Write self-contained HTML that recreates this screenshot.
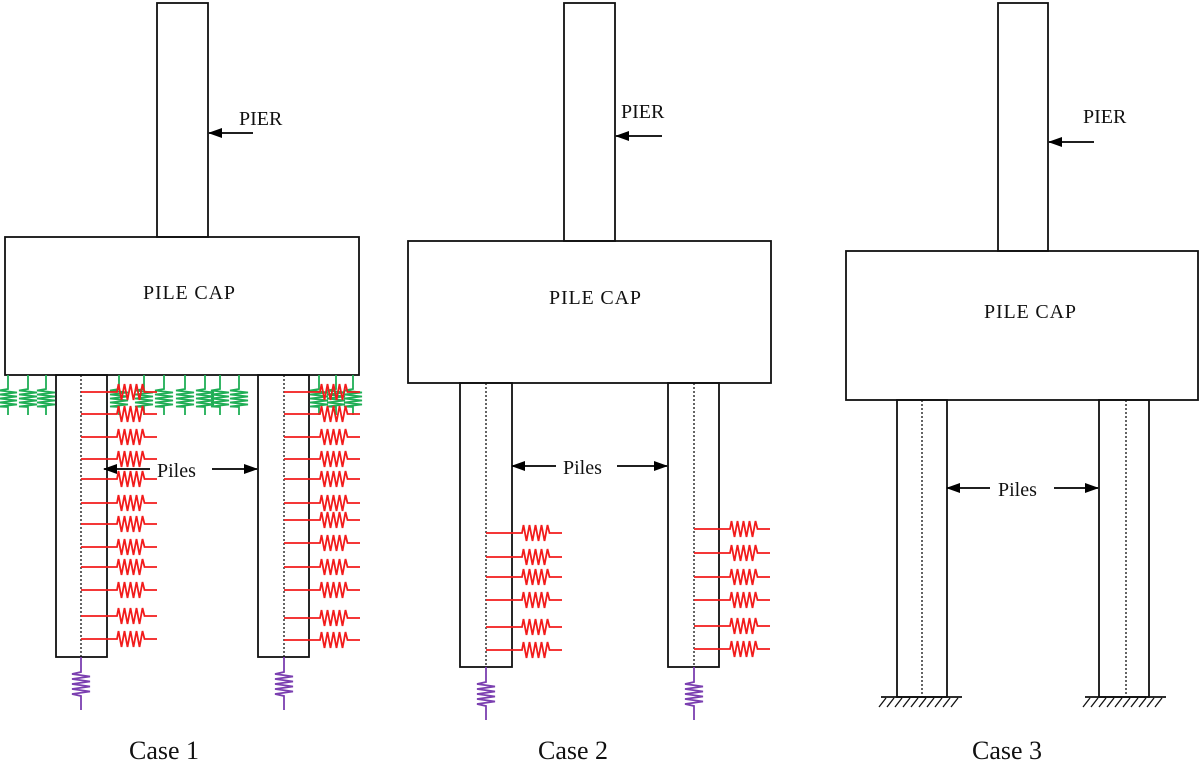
<!DOCTYPE html>
<html><head><meta charset="utf-8"><style>
html,body{margin:0;padding:0;background:#fff;}
svg{display:block;}
text{font-family:"Liberation Serif",serif;fill:#111;}
</style></head><body>
<svg width="1200" height="769" viewBox="0 0 1200 769" xmlns="http://www.w3.org/2000/svg">
<defs>
<path id="rs" d="M0 0H36L37.5 -8L40.5 8L43.5 -8L46.5 8L49.5 -8L52.5 8L55.5 -8L58.5 8L61.5 -8L63.5 0H76" fill="none" stroke="#f21c1c" stroke-width="1.8"/>
<path id="gs" d="M0 0V14L-9 15.5L9 17.5L-9 19.5L9 21.5L-9 23.5L9 25.5L-9 27.5L9 29.5L-9 31.5L0 32V40" fill="none" stroke="#1fae55" stroke-width="1.8"/>
<path id="ps" d="M0 0V15L-9 17L9 19.5L-9 22L9 24.5L-9 27L9 29.5L-9 32L9 34.5L-9 37L0 39V53" fill="none" stroke="#7b3fb0" stroke-width="1.8"/>
<marker id="ah" markerWidth="14" markerHeight="10" refX="13" refY="5" orient="auto" markerUnits="userSpaceOnUse"><path d="M0 0L14 5L0 10Z" fill="#000"/></marker>
</defs>
<g fill="none" stroke="#111" stroke-width="1.8">
<rect x="157" y="3" width="51" height="234"/>
<rect x="5" y="237" width="354" height="138"/>
<rect x="56" y="375" width="51" height="282"/>
<rect x="258" y="375" width="51" height="282"/>
<rect x="564" y="3" width="51" height="238"/>
<rect x="408" y="241" width="363" height="142"/>
<rect x="460" y="383" width="52" height="284"/>
<rect x="668" y="383" width="51" height="284"/>
<rect x="998" y="3" width="50" height="248"/>
<rect x="846" y="251" width="352" height="149"/>
<rect x="897" y="400" width="50" height="297"/>
<rect x="1099" y="400" width="50" height="297"/>
<path d="M881 697H962M1085 697H1166"/>
</g>
<g stroke="#111" stroke-width="1.3" stroke-dasharray="2,2">
<path d="M81 375V657M284 375V657M486 383V667M694 383V667M922 400V697M1126 400V697"/>
</g>
<g stroke="#111" stroke-width="1.3">
<path d="M886 698l-7 9M894 698l-7 9M902 698l-7 9M910 698l-7 9M918 698l-7 9M926 698l-7 9M934 698l-7 9M942 698l-7 9M950 698l-7 9M958 698l-7 9"/>
<path d="M1090 698l-7 9M1098 698l-7 9M1106 698l-7 9M1114 698l-7 9M1122 698l-7 9M1130 698l-7 9M1138 698l-7 9M1146 698l-7 9M1154 698l-7 9M1162 698l-7 9"/>
</g>
<use href="#gs" x="8" y="375"/><use href="#gs" x="28" y="375"/><use href="#gs" x="46" y="375"/>
<use href="#gs" x="119" y="375"/><use href="#gs" x="144" y="375"/><use href="#gs" x="164" y="375"/>
<use href="#gs" x="185" y="375"/><use href="#gs" x="205" y="375"/><use href="#gs" x="220" y="375"/><use href="#gs" x="239" y="375"/>
<use href="#gs" x="319" y="375"/><use href="#gs" x="336" y="375"/><use href="#gs" x="353" y="375"/>
<use href="#rs" x="81" y="392"/><use href="#rs" x="81" y="414"/><use href="#rs" x="81" y="437"/><use href="#rs" x="81" y="459"/>
<use href="#rs" x="81" y="479"/><use href="#rs" x="81" y="503"/><use href="#rs" x="81" y="524"/><use href="#rs" x="81" y="547"/>
<use href="#rs" x="81" y="567"/><use href="#rs" x="81" y="590"/><use href="#rs" x="81" y="616"/><use href="#rs" x="81" y="639"/>
<use href="#rs" x="284" y="392"/><use href="#rs" x="284" y="414"/><use href="#rs" x="284" y="437"/><use href="#rs" x="284" y="459"/>
<use href="#rs" x="284" y="479"/><use href="#rs" x="284" y="503"/><use href="#rs" x="284" y="520"/><use href="#rs" x="284" y="543"/>
<use href="#rs" x="284" y="567"/><use href="#rs" x="284" y="590"/><use href="#rs" x="284" y="618"/><use href="#rs" x="284" y="640"/>
<use href="#rs" x="486" y="533"/><use href="#rs" x="486" y="557"/><use href="#rs" x="486" y="577"/>
<use href="#rs" x="486" y="600"/><use href="#rs" x="486" y="627"/><use href="#rs" x="486" y="650"/>
<use href="#rs" x="694" y="529"/><use href="#rs" x="694" y="553"/><use href="#rs" x="694" y="577"/>
<use href="#rs" x="694" y="600"/><use href="#rs" x="694" y="626"/><use href="#rs" x="694" y="649"/>
<use href="#ps" x="81" y="657"/><use href="#ps" x="284" y="657"/>
<use href="#ps" x="486" y="667"/><use href="#ps" x="694" y="667"/>
<g stroke="#000" stroke-width="1.8" marker-end="url(#ah)">
<line x1="253" y1="133" x2="209" y2="133"/>
<line x1="662" y1="136" x2="616" y2="136"/>
<line x1="1094" y1="142" x2="1049" y2="142"/>
<line x1="150" y1="469" x2="104" y2="469"/>
<line x1="212" y1="469" x2="257" y2="469"/>
<line x1="556" y1="466" x2="512" y2="466"/>
<line x1="617" y1="466" x2="667" y2="466"/>
<line x1="990" y1="488" x2="947" y2="488"/>
<line x1="1054" y1="488" x2="1098" y2="488"/>
</g>
<g font-size="20">
<text x="239" y="125">PIER</text>
<text x="621" y="118">PIER</text>
<text x="1083" y="123">PIER</text>
<text x="143" y="299" textLength="92">PILE CAP</text>
<text x="549" y="304" textLength="92">PILE CAP</text>
<text x="984" y="318" textLength="92">PILE CAP</text>
<text x="157" y="477">Piles</text>
<text x="563" y="474">Piles</text>
<text x="998" y="496">Piles</text>
</g>
<g font-size="26">
<text x="129" y="759">Case 1</text>
<text x="538" y="759">Case 2</text>
<text x="972" y="759">Case 3</text>
</g>
</svg>
</body></html>
